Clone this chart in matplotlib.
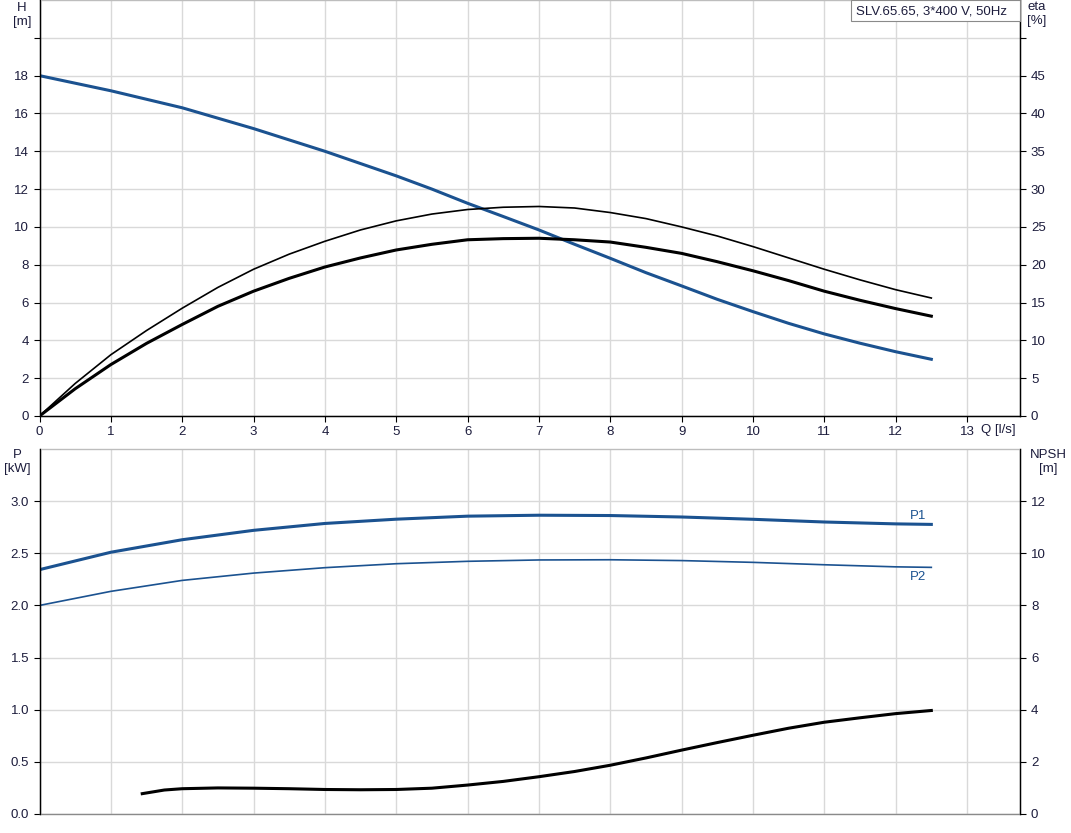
import numpy as np
import matplotlib
matplotlib.use('Agg')
from matplotlib import pyplot as plt
from matplotlib.patches import Rectangle

plt.rcParams['font.family'] = ['Liberation Sans', 'DejaVu Sans']

# Data
q_h = [0, 0.5, 1, 1.5, 2, 2.5, 3, 3.5, 4, 4.5, 5, 5.5, 6, 6.5, 7, 7.5, 8, 8.5,
       9, 9.5, 10, 10.5, 11, 11.5, 12, 12.5]
head = [18.0, 17.6, 17.2, 16.75, 16.3, 15.75, 15.2, 14.6, 14.0, 13.35, 12.7, 12.0,
        11.25, 10.55, 9.84, 9.08, 8.34, 7.58, 6.88, 6.17, 5.52, 4.90, 4.34, 3.85, 3.40, 3.0]

q_eta = [0, 0.5, 1, 1.5, 2, 2.5, 3, 3.5, 4, 4.5, 5, 5.5, 6, 6.5, 7, 7.5, 8, 8.5,
         9, 9.5, 10, 10.5, 11, 11.5, 12, 12.5]
eta_pump = [0, 4.3, 8.1, 11.3, 14.25, 17.0, 19.4, 21.4, 23.1, 24.6, 25.8, 26.7, 27.3,
            27.6, 27.7, 27.5, 26.9, 26.1, 25.0, 23.8, 22.4, 20.9, 19.4, 18.0, 16.7, 15.6]
eta_total = [0, 3.6, 6.8, 9.6, 12.1, 14.5, 16.5, 18.2, 19.7, 20.9, 21.95, 22.7, 23.3,
             23.45, 23.5, 23.3, 23.0, 22.3, 21.5, 20.4, 19.2, 17.9, 16.5, 15.3, 14.2, 13.2]

q_p = [0, 1, 2, 3, 4, 5, 6, 7, 8, 9, 10, 11, 12, 12.5]
p1 = [2.343, 2.51, 2.63, 2.72, 2.786, 2.827, 2.856, 2.865, 2.862, 2.848, 2.826, 2.80, 2.782, 2.777]
p2 = [2.0, 2.135, 2.24, 2.31, 2.362, 2.40, 2.423, 2.436, 2.438, 2.43, 2.413, 2.39, 2.37, 2.365]

q_npsh = [1.44, 1.75, 2, 2.5, 3, 3.5, 4, 4.5, 5, 5.5, 6, 6.5, 7, 7.5, 8, 8.5, 9, 9.5,
          10, 10.5, 11, 11.5, 12, 12.5]
npsh = [0.78, 0.92, 0.97, 1.0, 0.99, 0.97, 0.94, 0.93, 0.94, 0.99, 1.11, 1.25, 1.43,
        1.63, 1.87, 2.15, 2.45, 2.74, 3.02, 3.29, 3.52, 3.69, 3.85, 3.97]

x_ticks = list(range(0, 14))
h_ticks = list(range(0, 22, 2))
eta_ticks = list(range(0, 55, 5))
p_ticks = [0.0, 0.5, 1.0, 1.5, 2.0, 2.5, 3.0]
npsh_ticks = list(range(0, 14, 2))

blue = '#1b5290'
txt = '#1c1c3c'
grid_c = '#d9d9d9'
fs = 9.5

W, H = 1071, 833
fig = plt.figure(figsize=(W / 100, H / 100), dpi=100)

left = 39.5 / W
width = 981 / W
ax1 = fig.add_axes([left, 1 - 416 / H, width, 416 / H])
ax2 = fig.add_axes([left, 1 - 814 / H, width, (814 - 449) / H])


def style(ax, gray_bottom=False):
    ax.set_xlim(0, 13.75)
    ax.set_xticks(x_ticks)
    ax.grid(True, color=grid_c, linewidth=1.0)
    ax.set_axisbelow(True)
    for s in ['left', 'right', 'bottom', 'top']:
        ax.spines[s].set_color('black')
        ax.spines[s].set_linewidth(1.0)
    ax.spines['top'].set_color('#bdbdbd')
    if gray_bottom:
        ax.spines['bottom'].set_color('#8a8a8a')
    ax.tick_params(colors='black', labelcolor=txt, labelsize=fs, length=4, direction='out')


# Top panel: H and eta
style(ax1)
ax1.set_ylim(0, 22)
ax1.set_yticks(h_ticks)
ax1.set_yticklabels([str(v) for v in h_ticks[:-1]] + [''])
ax1.yaxis.get_major_ticks()[-1].tick1line.set_visible(False)
ax1.set_xticklabels([str(v) for v in x_ticks])
ax1.plot(q_h, head, color=blue, linewidth=2.2)

ax1r = ax1.twinx()
ax1r.set_ylim(0, 55)
ax1r.set_yticks(eta_ticks)
ax1r.set_yticklabels([str(v) for v in eta_ticks[:-1]] + [''])
ax1r.tick_params(colors='black', labelcolor=txt, labelsize=fs, length=4, direction='out')
ax1r.spines['top'].set_visible(False)
ax1r.plot(q_eta, eta_pump, color='black', linewidth=1.2)
ax1r.plot(q_eta, eta_total, color='black', linewidth=2.2)

fig.text(22 / W, 1 - 8 / H, 'H', color=txt, fontsize=fs, ha='center', va='center')
fig.text(22 / W, 1 - 22 / H, '[m]', color=txt, fontsize=fs, ha='center', va='center')
fig.text(1037 / W, 1 - 7 / H, 'eta', color=txt, fontsize=fs, ha='center', va='center')
fig.text(1037 / W, 1 - 21 / H, '[%]', color=txt, fontsize=fs, ha='center', va='center')
fig.text(998 / W, 1 - 430 / H, 'Q [l/s]', color=txt, fontsize=fs, ha='center', va='center')

# model box in the top right corner
fig.patches.append(Rectangle((851 / W, 1 - 21 / H), (1020 - 851) / W, 21 / H,
                             transform=fig.transFigure, facecolor='white',
                             edgecolor='#8a8a8a', linewidth=0.8, zorder=5))
fig.text(856 / W, 1 - 11 / H, 'SLV.65.65, 3*400 V, 50Hz', color=txt, fontsize=fs,
         ha='left', va='center', zorder=6)

# Bottom panel: P and NPSH
style(ax2, gray_bottom=True)
ax2.set_ylim(0, 3.5)
ax2.set_yticks(p_ticks)
ax2.set_yticklabels(['%.1f' % v for v in p_ticks])
ax2.tick_params(axis='x', length=0, labelbottom=False)
ax2.plot(q_p, p1, color=blue, linewidth=2.2)
ax2.plot(q_p, p2, color=blue, linewidth=1.2)
ax2.text(12.32, 2.86, 'P1', color=blue, fontsize=fs, ha='center', va='center')
ax2.text(12.32, 2.27, 'P2', color=blue, fontsize=fs, ha='center', va='center')

ax2r = ax2.twinx()
ax2r.set_ylim(0, 14)
ax2r.set_yticks(npsh_ticks)
ax2r.tick_params(colors='black', labelcolor=txt, labelsize=fs, length=4, direction='out')
ax2r.spines['top'].set_visible(False)
ax2r.spines['bottom'].set_visible(False)
ax2r.plot(q_npsh, npsh, color='black', linewidth=2.2)

fig.text(17 / W, 1 - 455 / H, 'P', color=txt, fontsize=fs, ha='center', va='center')
fig.text(17 / W, 1 - 469 / H, '[kW]', color=txt, fontsize=fs, ha='center', va='center')
fig.text(1048 / W, 1 - 455 / H, 'NPSH', color=txt, fontsize=fs, ha='center', va='center')
fig.text(1048 / W, 1 - 469 / H, '[m]', color=txt, fontsize=fs, ha='center', va='center')

fig.savefig('out.png', dpi=100)
